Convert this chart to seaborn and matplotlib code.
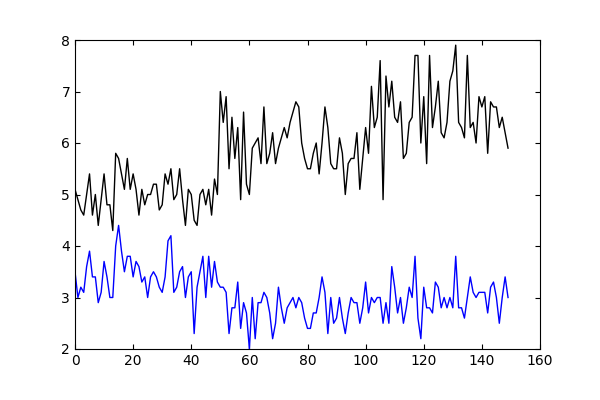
import matplotlib
matplotlib.use("Agg")
import matplotlib.pyplot as plt
import seaborn as sns
import numpy as np

sepal_length = [5.1,4.9,4.7,4.6,5.0,5.4,4.6,5.0,4.4,4.9,5.4,4.8,4.8,4.3,5.8,5.7,5.4,5.1,5.7,5.1,5.4,5.1,4.6,5.1,4.8,5.0,5.0,5.2,5.2,4.7,4.8,5.4,5.2,5.5,4.9,5.0,5.5,4.9,4.4,5.1,5.0,4.5,4.4,5.0,5.1,4.8,5.1,4.6,5.3,5.0,
7.0,6.4,6.9,5.5,6.5,5.7,6.3,4.9,6.6,5.2,5.0,5.9,6.0,6.1,5.6,6.7,5.6,5.8,6.2,5.6,5.9,6.1,6.3,6.1,6.4,6.6,6.8,6.7,6.0,5.7,5.5,5.5,5.8,6.0,5.4,6.0,6.7,6.3,5.6,5.5,5.5,6.1,5.8,5.0,5.6,5.7,5.7,6.2,5.1,5.7,
6.3,5.8,7.1,6.3,6.5,7.6,4.9,7.3,6.7,7.2,6.5,6.4,6.8,5.7,5.8,6.4,6.5,7.7,7.7,6.0,6.9,5.6,7.7,6.3,6.7,7.2,6.2,6.1,6.4,7.2,7.4,7.9,6.4,6.3,6.1,7.7,6.3,6.4,6.0,6.9,6.7,6.9,5.8,6.8,6.7,6.7,6.3,6.5,6.2,5.9]
sepal_width = [3.5,3.0,3.2,3.1,3.6,3.9,3.4,3.4,2.9,3.1,3.7,3.4,3.0,3.0,4.0,4.4,3.9,3.5,3.8,3.8,3.4,3.7,3.6,3.3,3.4,3.0,3.4,3.5,3.4,3.2,3.1,3.4,4.1,4.2,3.1,3.2,3.5,3.6,3.0,3.4,3.5,2.3,3.2,3.5,3.8,3.0,3.8,3.2,3.7,3.3,
3.2,3.2,3.1,2.3,2.8,2.8,3.3,2.4,2.9,2.7,2.0,3.0,2.2,2.9,2.9,3.1,3.0,2.7,2.2,2.5,3.2,2.8,2.5,2.8,2.9,3.0,2.8,3.0,2.9,2.6,2.4,2.4,2.7,2.7,3.0,3.4,3.1,2.3,3.0,2.5,2.6,3.0,2.6,2.3,2.7,3.0,2.9,2.9,2.5,2.8,
3.3,2.7,3.0,2.9,3.0,3.0,2.5,2.9,2.5,3.6,3.2,2.7,3.0,2.5,2.8,3.2,3.0,3.8,2.6,2.2,3.2,2.8,2.8,2.7,3.3,3.2,2.8,3.0,2.8,3.0,2.8,3.8,2.8,2.8,2.6,3.0,3.4,3.1,3.0,3.1,3.1,3.1,2.7,3.2,3.3,3.0,2.5,3.0,3.4,3.0]
idx = np.arange(len(sepal_length))

plt.rcParams.update({"xtick.direction": "in", "ytick.direction": "in",
                     "xtick.top": True, "ytick.right": True, "font.size": 10})
fig, ax = plt.subplots(figsize=(6, 4), dpi=100)
fig.subplots_adjust(left=0.125, right=0.9, top=0.9, bottom=0.1275)
sns.lineplot(x=idx, y=sepal_length, color="black", lw=1.0, ax=ax)
sns.lineplot(x=idx, y=sepal_width, color="blue", lw=1.0, ax=ax)
ax.set_xlim(0, 160)
ax.set_ylim(2, 8)
ax.set_xticks(range(0, 161, 20))
ax.set_yticks(range(2, 9))
fig.savefig("out.png")
